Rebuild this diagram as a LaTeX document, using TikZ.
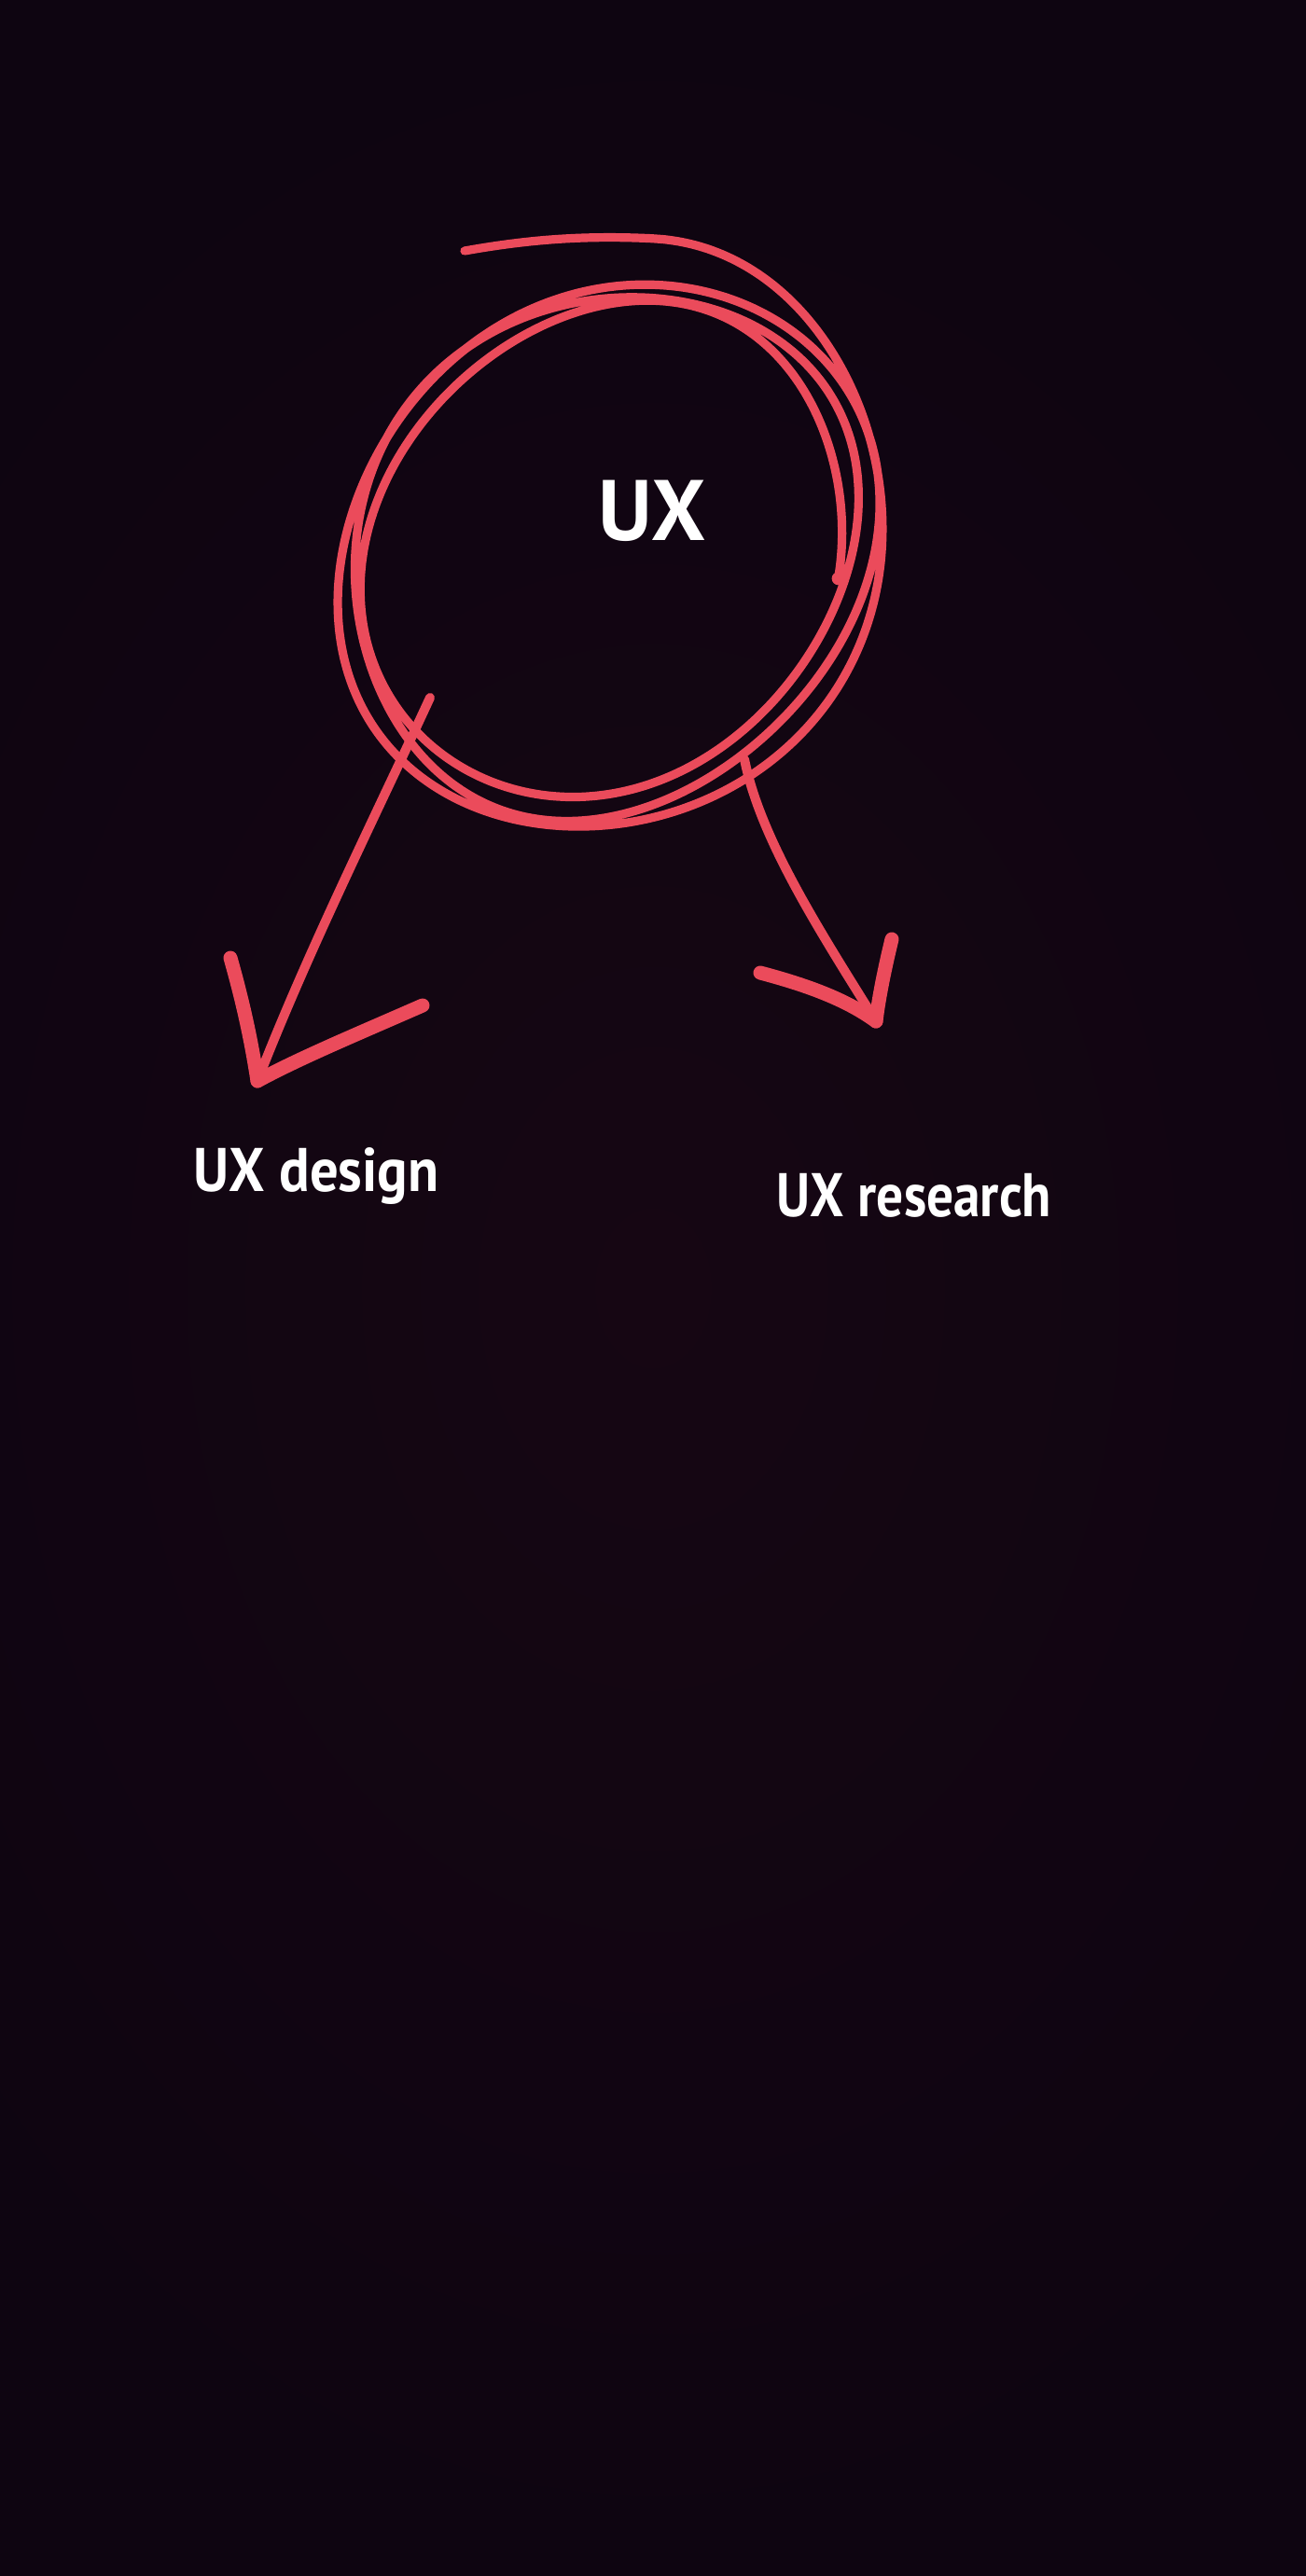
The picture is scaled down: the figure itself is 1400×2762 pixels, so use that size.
\documentclass[tikz,border=0pt]{standalone}
\usepackage{fontspec}
\setmainfont{PT Sans}
\definecolor{bgtop}{HTML}{0E0511}
\definecolor{bgmid}{HTML}{160613}
\definecolor{ink}{HTML}{EB4B5B}
\begin{document}
\begin{tikzpicture}[x=0.5pt,y=-0.5pt,
  scribble/.style={draw=ink,line width=4.6pt,line cap=round,line join=round},
  shaft/.style={draw=ink,line width=5pt,line cap=round},
  barb/.style={draw=ink,line width=7.5pt,line cap=round},
  label/.style={text=white,inner sep=0pt},
  declare function={
    uu(\s)=(\s+90)/1175;
    bump(\s)=(\s<0)*(0-\s)/90;
    aa(\s)=300-50*uu(\s);
    bb(\s)=305-49*uu(\s)+22*bump(\s);
    px(\s)=648+8*uu(\s)+aa(\s)*cos(\s)-0.14*bb(\s)*sin(\s)+8*sin(2.3*\s);
    py(\s)=590+bb(\s)*sin(\s)+8*sin(1.7*\s+40);
  }]
\useasboundingbox (0,0) rectangle (1400,2762);
\fill[bgtop] (0,0) rectangle (1400,2762);
\shade[inner color=bgmid,outer color=bgtop] (-300,0) rectangle (1700,2762);
% the scribbled circle: a tail and a shrinking spiral
\coordinate (tailA) at (498,269);
\coordinate (tailB) at ({px(-90)},{py(-90)});
\coordinate (tailC) at ({px(1085)},{py(1085)});
\draw[scribble] (tailA) .. controls (560,258) and (620,252) .. (tailB)
  -- plot[domain=-90:1085,samples=360,smooth,variable=\u]
  ({px(\u)},{py(\u)});
\fill[ink] (tailC) circle (7);
\node[label,font=\bfseries\fontsize{46}{46}\selectfont] (ux) at (699,548) {UX};
\node[label,font=\bfseries\fontsize{33}{33}\selectfont,xscale=0.92] (design) at (339,1261) {UX design};
\node[label,font=\bfseries\fontsize{33}{33}\selectfont,xscale=0.87] (research) at (980,1282) {UX research};
% arrow to UX design
\coordinate (lS) at (461,748);
\coordinate (lT) at (276,1159);
\coordinate (lB1) at (247,1027);
\coordinate (lB2) at (453,1078);
\draw[shaft] (lS) .. controls (400,880) and (330,1020) .. (lT);
\draw[barb] (lB1) .. controls (262,1080) and (270,1120) .. (lT);
\draw[barb] (lB2) .. controls (380,1110) and (320,1135) .. (lT);
% arrow to UX research
\coordinate (rS) at (798,814);
\coordinate (rT) at (939,1095);
\coordinate (rB1) at (956,1007);
\coordinate (rB2) at (815,1043);
\draw[shaft] (rS) .. controls (815,900) and (880,1000) .. (rT);
\draw[barb] (rB1) .. controls (948,1040) and (942,1070) .. (rT);
\draw[barb] (rB2) .. controls (860,1055) and (905,1070) .. (rT);
\end{tikzpicture}
\end{document}
